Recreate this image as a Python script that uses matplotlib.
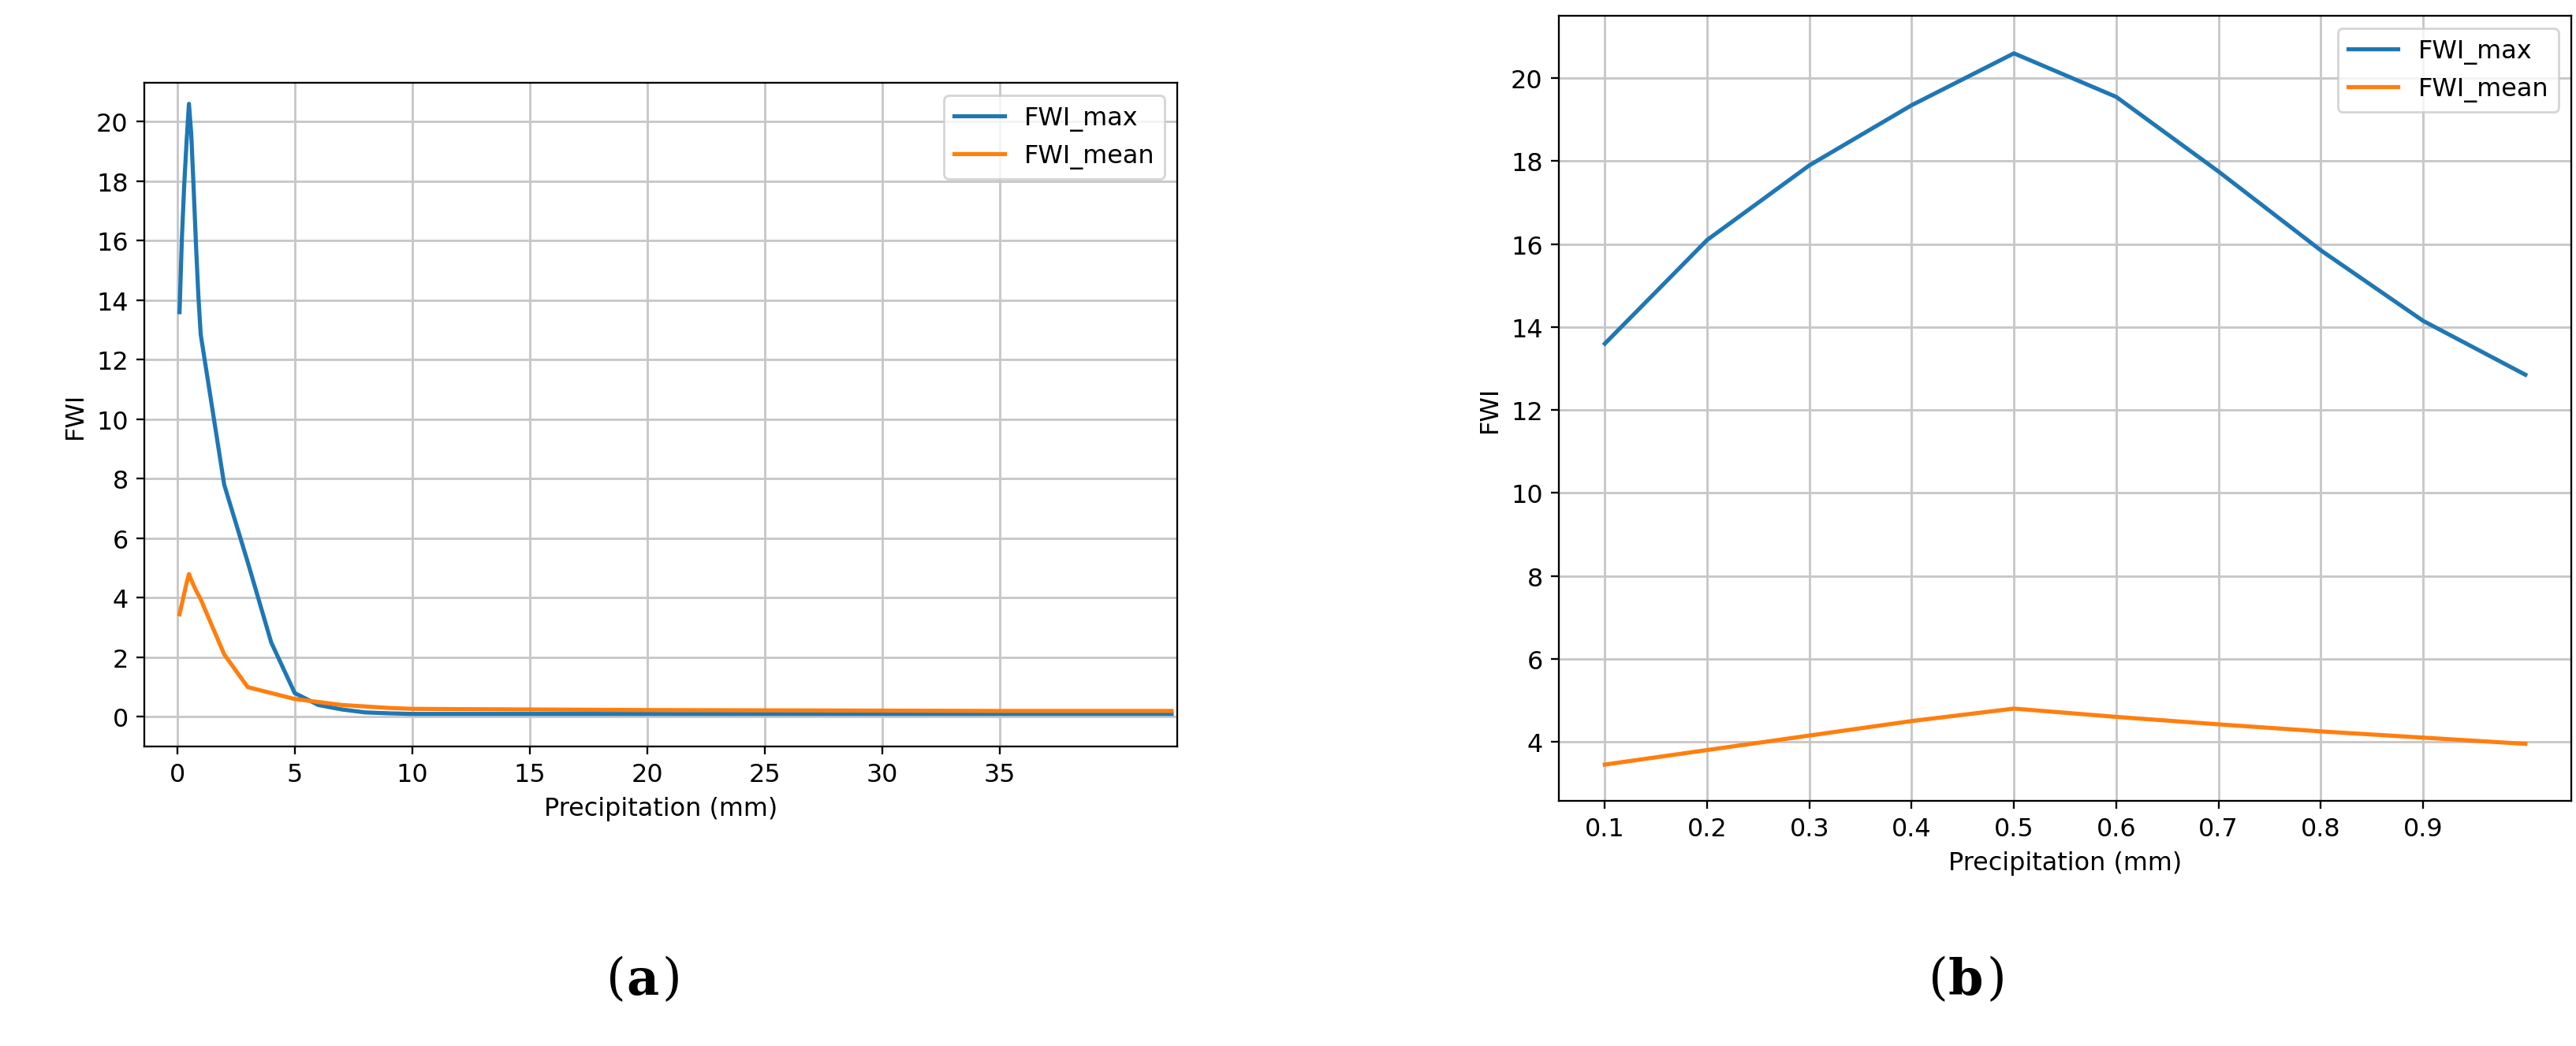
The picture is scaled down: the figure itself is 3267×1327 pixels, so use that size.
import matplotlib.pyplot as plt
import numpy as np

# panel (a): precipitation bins (mm)
precip_a = [0.1, 0.2, 0.3, 0.4, 0.5, 0.6, 0.7, 0.8, 0.9, 1, 2, 3, 4, 5, 6, 7, 8, 9, 10,
            12, 15, 20, 25, 30, 35, 42.3]
fwi_max_a = [13.6, 16.1, 17.9, 19.35, 20.6, 19.55, 17.75, 15.85, 14.15, 12.85, 7.8, 5.2, 2.5,
             0.8, 0.4, 0.25, 0.15, 0.12, 0.1, 0.1, 0.1, 0.1, 0.1, 0.1, 0.1, 0.1]
fwi_mean_a = [3.45, 3.8, 4.15, 4.5, 4.8, 4.6, 4.42, 4.25, 4.1, 3.95, 2.1, 1.0, 0.8,
              0.6, 0.5, 0.4, 0.35, 0.3, 0.27, 0.26, 0.25, 0.23, 0.22, 0.21, 0.2, 0.2]

# panel (b): 0.1 - 1.0 mm
precip_b = [0.1, 0.2, 0.3, 0.4, 0.5, 0.6, 0.7, 0.8, 0.9, 1.0]
fwi_max_b = [13.6, 16.1, 17.9, 19.35, 20.6, 19.55, 17.75, 15.85, 14.15, 12.85]
fwi_mean_b = [3.45, 3.8, 4.15, 4.5, 4.8, 4.6, 4.42, 4.25, 4.1, 3.95]

fig = plt.figure(figsize=(15.68, 6.372), dpi=208.4)
ax1 = fig.add_axes([0.056, 0.286, 0.401, 0.634])
ax2 = fig.add_axes([0.605, 0.234, 0.393, 0.75])

ax1.plot(precip_a, fwi_max_a, color='#1f77b4', lw=1.8, label='FWI_max')
ax1.plot(precip_a, fwi_mean_a, color='#ff7f0e', lw=1.8, label='FWI_mean')
ax1.set_xlim(-1.4, 42.55)
ax1.set_ylim(-1.0, 21.3)
ax1.set_xticks(np.arange(0, 40, 5))
ax1.set_yticks(np.arange(0, 21, 2))

ax2.plot(precip_b, fwi_max_b, color='#1f77b4', lw=1.8, label='FWI_max')
ax2.plot(precip_b, fwi_mean_b, color='#ff7f0e', lw=1.8, label='FWI_mean')
ax2.set_xlim(0.055, 1.045)
ax2.set_ylim(2.57, 21.5)
ax2.set_xticks(np.arange(0.1, 0.95, 0.1))
ax2.set_yticks(np.arange(4, 21, 2))

for ax in (ax1, ax2):
    ax.grid(True, color='#c8c8c8', lw=1)
    ax.tick_params(labelsize=11)
    ax.set_xlabel('Precipitation (mm)', fontsize=11)
    ax.set_ylabel('FWI', fontsize=11)
    ax.legend(loc='upper right', fontsize=11)

fig.text(0.243, 0.05, '(', fontsize=22, family='DejaVu Serif', ha='right')
fig.text(0.243, 0.05, 'a', fontsize=22, family='DejaVu Serif', weight='bold', ha='left')
fig.text(0.257, 0.05, ')', fontsize=22, family='DejaVu Serif', ha='left')
fig.text(0.756, 0.05, '(', fontsize=22, family='DejaVu Serif', ha='right')
fig.text(0.756, 0.05, 'b', fontsize=22, family='DejaVu Serif', weight='bold', ha='left')
fig.text(0.771, 0.05, ')', fontsize=22, family='DejaVu Serif', ha='left')

fig.savefig('out.png')
